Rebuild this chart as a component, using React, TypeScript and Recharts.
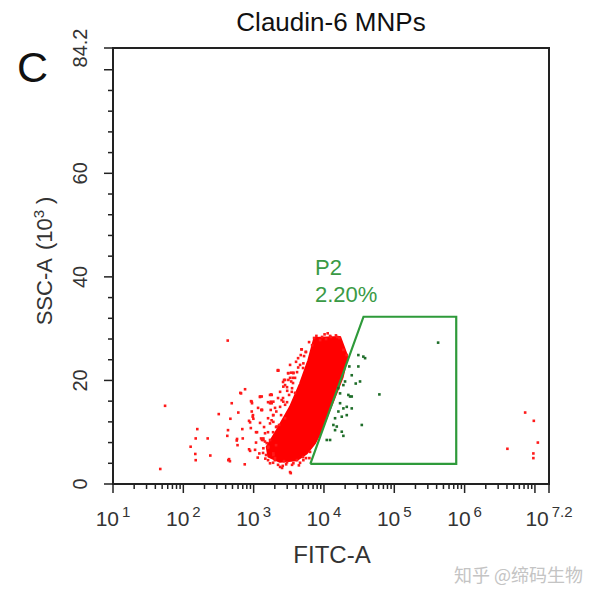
import React from 'react';
import { ScatterChart, Scatter, XAxis, YAxis, ReferenceArea } from 'recharts';

// ---------- data (FITC-A in raw units, SSC-A in 10^3) ----------
const redCoreOutline: [number, number][] = [
  [7300, 28.2], [16940, 28.4], [21530, 24.6], [18500, 20.7], [14380, 16.9],
  [11560, 13.7], [9310, 10.4], [7465, 7.9], [5690, 5.9], [4100, 4.6],
  [2370, 4.3], [1618, 5.3], [1535, 7.2], [2133, 10.4], [3296, 14.9],
  [4571, 19.4], [5998, 23.9],
];

const redEvents: [number, number][] = [
  [55, 15.1], [47, 2.9], [428, 27.7], [127, 7.2], [158, 10.6], [150, 8.8], [148, 5.8],
  [150, 4.6], [222, 8.8], [242, 5.5], [319, 13.5], [437, 4.6], [467, 12.6], [488, 15.6],
  [432, 10.4], [581, 8.7], [590, 7.5], [690, 10.6], [662, 17.5], [755, 18.3], [647, 17.6],
  [747, 3.8], [940, 15.9], [940, 14.0], [991, 12.6], [912, 10.8], [1205, 5.9], [1143, 5.1],
  [1288, 14.3], [1303, 16.9], [1274, 8.8], [1770, 17.3], [1808, 15.6], [2203, 21.9],
  [2706, 20.1], [2594, 3.5], [3373, 2.1], [4775, 26.0], [3404, 21.5], [3675, 21.5],
  [3420, 19.8], [1906, 5.9], [1618, 7.2], [1466, 4.9], [422, 9.3], [575, 8.4], [447, 4.8],
  [460, 4.4], [605, 13.8], [860, 12.2], [890, 11.9], [970, 13.0], [918, 16.0], [1233, 16.9],
  [1318, 14.3], [1081, 10.0], [700, 8.8], [861, 6.7], [890, 6.4], [1081, 8.0], [1374, 8.5],
  [1750, 15.9], [1750, 14.3], [1906, 12.0], [2083, 11.0],
  [4831, 26.0], [4677, 24.9], [5093, 23.3], [3673, 21.4], [3119, 21.4], [2245, 21.9],
  [2798, 20.1], [3119, 20.1], [2642, 18.8], [3484, 17.8], [1808, 17.2], [1906, 15.9],
  [2642, 15.9], [2377, 14.9], [1303, 14.3], [1906, 13.3], [2798, 12.7], [1710, 11.7],
  [2133, 11.1], [1374, 8.8], [1535, 7.9], [1374, 6.9], [1906, 5.6], [1710, 4.0],
  [2377, 3.3], [3673, 4.0], [5093, 4.6], [8810, 27.8], [18880, 25.9], [21090, 24.9],
  [7800, 28.6], [10200, 28.9], [12500, 28.4], [14800, 28.7], [16500, 28.2], [11300, 29.1],
  [5500, 25.5], [4300, 22.5], [3600, 20.5], [3000, 18.0], [2500, 16.2], [2100, 14.0],
  [1800, 12.3], [1600, 10.0], [1450, 8.2], [1500, 5.6], [2000, 4.6], [2900, 3.8],
  [4400, 3.6], [6200, 5.0],
  [4285, 24.3], [4571, 23.0], [5045, 22.4], [3083, 21.4], [3296, 20.5], [3880, 20.5],
  [2223, 22.0], [2618, 19.7], [3516, 18.5], [2985, 18.7], [3880, 17.6], [1233, 16.8],
  [1710, 17.2], [2223, 16.6], [1603, 15.8], [2618, 16.6], [2985, 15.8],
  [979, 13.3], [1117, 10.0], [1233, 11.8], [1315, 8.5], [1452, 9.8], [1047, 6.6],
  [1361, 6.0], [1603, 4.6], [1889, 4.1], [2223, 3.7], [2535, 3.1], [2985, 4.2],
  [3516, 3.7], [4140, 4.6], [3296, 2.3], [5045, 5.2], [1710, 15.6], [1156, 14.7],
  [948, 15.6], [1889, 13.3],
  [6780, 26.8], [5560, 25.5], [6140, 27.4], [7230, 28.2], [9400, 28.4], [12220, 28.6],
  [15350, 28.4], [10710, 28.0], [4140, 21.6], [3630, 19.5], [3190, 17.2], [2800, 15.3],
  [2455, 13.3], [2297, 11.4], [1889, 10.0], [1710, 8.5], [1603, 7.0], [2014, 5.0],
  [2704, 4.4], [4571, 4.1], [5560, 5.0], [6340, 6.2], [2084, 7.5], [1406, 11.0],
  [1603, 12.7], [2014, 14.7], [2377, 17.8], [2800, 19.1], [3296, 23.0], [4010, 23.6],
  [5210, 24.7],
  [7260000, 13.8], [9640000, 12.2], [11000000, 8.0], [4060000, 6.8], [9500000, 5.9], [9500000, 5.0],
];

const greenEvents: [number, number][] = [
  [30830, 24.9], [36300, 24.6], [22960, 22.7], [30830, 22.7], [24830, 21.0], [32580, 19.8],
  [28300, 19.4], [19950, 19.8], [18880, 19.1], [22230, 17.2], [24830, 16.9], [61380, 17.3],
  [16940, 15.6], [18880, 14.6], [24830, 14.6], [16030, 14.0], [21090, 13.3], [17910, 13.0],
  [14380, 12.7], [13610, 11.4], [34500, 11.4], [15210, 11.1], [14380, 10.4], [17910, 10.1],
  [18880, 9.3], [12220, 8.5], [10960, 8.5], [16030, 18.5], [16940, 17.5], [38460, 24.3],
  [21090, 14.9], [23500, 16.9], [420000, 27.3],
];

const gateP2: [number, number][] = [
  [6400, 3.9], [36500, 32.3], [760000, 32.3], [760000, 3.9], [6400, 3.9],
];

// ---------- axes ----------
const X_MIN = 10;
const X_MAX = 15848932; // 10^7.2
const Y_MAX = 84.2;
const xMajorTicks = [10, 100, 1000, 10000, 100000, 1000000, 10000000, 15848932];
const xTickExponents: Record<string, string> = {
  '10': '1', '100': '2', '1000': '3', '10000': '4', '100000': '5', '1000000': '6', '15848932': '7.2',
};
const xMinorMultipliers = [2, 3, 4, 5, 6, 7, 8, 9];
const xDecades = [10, 100, 1000, 10000, 100000, 1000000];
const xMinorTicks = xDecades.flatMap((d) => xMinorMultipliers.map((m) => m * d));
const xTicks = [...xMajorTicks, ...xMinorTicks].sort((a, b) => a - b);

const yTicks = [0, 4, 8, 12, 16, 20, 24, 28, 32, 36, 40, 44, 48, 52, 56, 60, 64, 68, 72, 76, 80, 84.2];
const yMajorTicks = [0, 20, 40, 60, 80, 84.2];
const yTickLabels: Record<string, string> = { '0': '0', '20': '20', '40': '40', '60': '60', '84.2': '84.2' };

const toPts = (arr: [number, number][]) => arr.map(([x, y]) => ({ x, y }));

const FONT = '"Liberation Sans", Arial, Helvetica, sans-serif';
const AXIS = '#222';

const XTick = (props: any) => {
  const { x, y, payload } = props;
  const v = payload.value;
  const major = xMajorTicks.includes(v);
  const exp = xTickExponents[String(v)];
  return (
    <g>
      <line x1={x} x2={x} y1={y} y2={y + (major ? 9 : 5)} stroke={AXIS} strokeWidth={1.5} />
      {exp && (
        <text x={x} y={y + 42} textAnchor="middle" fontFamily={FONT} fontSize={21} fill="#333">
          <tspan>10</tspan>
          <tspan dx={3} dy={-9} fontSize={15}>{exp}</tspan>
        </text>
      )}
    </g>
  );
};

const YTick = (props: any) => {
  const { x, y, payload } = props;
  const v = payload.value;
  const major = yMajorTicks.includes(v);
  const lab = yTickLabels[String(v)];
  return (
    <g>
      <line x1={x - (major ? 9 : 5)} x2={x} y1={y} y2={y} stroke={AXIS} strokeWidth={1.5} />
      {lab && (
        <text
          transform={`translate(${x - 26},${y}) rotate(-90)`}
          textAnchor="middle"
          fontFamily={FONT}
          fontSize={20}
          fill="#333"
        >
          {lab}
        </text>
      )}
    </g>
  );
};

const Dot = (color: string) => (p: any) =>
  <rect x={p.cx - 1.3} y={p.cy - 1.3} width={2.6} height={2.6} fill={color} />;

const NoShape = () => <g />;

const polygonFill = (color: string) => (p: any) => {
  const pts = (p.points || []) as { x: number; y: number }[];
  if (!pts.length) return <g />;
  const d = 'M' + pts.map((q) => `${q.x},${q.y}`).join('L') + 'Z';
  return <path d={d} fill={color} stroke={color} strokeWidth={2} strokeLinejoin="round" />;
};

const polyLine = (color: string) => (p: any) => {
  const pts = (p.points || []) as { x: number; y: number }[];
  if (!pts.length) return <g />;
  const d = 'M' + pts.map((q) => `${q.x},${q.y}`).join('L');
  return <path d={d} fill="none" stroke={color} strokeWidth={2.2} />;
};

export default function App() {
  return (
    <div style={{ position: 'absolute', left: 0, top: 0, width: 600, height: 600, background: '#fff' }}>
      <ScatterChart width={600} height={600} margin={{ top: 48, right: 51, left: 53, bottom: 56 }}>
        <XAxis
          type="number"
          dataKey="x"
          scale="log"
          domain={[X_MIN, X_MAX]}
          allowDataOverflow
          ticks={xTicks}
          interval={0}
          tick={<XTick />}
          tickLine={false}
          tickSize={0}
          tickMargin={0}
          height={60}
          axisLine={{ stroke: AXIS, strokeWidth: 2 }}
        />
        <YAxis
          type="number"
          dataKey="y"
          domain={[0, Y_MAX]}
          allowDataOverflow
          ticks={yTicks}
          interval={0}
          tick={<YTick />}
          tickLine={false}
          tickSize={0}
          tickMargin={0}
          width={60}
          axisLine={{ stroke: AXIS, strokeWidth: 2 }}
        />
        <ReferenceArea x1={X_MIN} x2={X_MAX} y1={0} y2={Y_MAX} fill="none" stroke={AXIS} strokeWidth={2} ifOverflow="visible" />
        <Scatter
          data={toPts(redCoreOutline)}
          shape={NoShape}
          line={polygonFill('#ff0000')}
          lineType="joint"
          isAnimationActive={false}
        />
        <Scatter data={toPts(redEvents)} shape={Dot('#ff1a1a')} isAnimationActive={false} />
        <Scatter
          data={toPts(gateP2)}
          shape={NoShape}
          line={polyLine('#2e9a3a')}
          lineType="joint"
          isAnimationActive={false}
        />
        <Scatter data={toPts(greenEvents)} shape={Dot('#1f6e2a')} isAnimationActive={false} />
      </ScatterChart>
      <svg
        width={600}
        height={600}
        style={{ position: 'absolute', left: 0, top: 0, pointerEvents: 'none' }}
        fontFamily={FONT}
      >
        <text x={331} y={31} textAnchor="middle" fontSize={26} fill="#111">Claudin-6 MNPs</text>
        <text x={17} y={82} fontSize={43} fill="#111">C</text>
        <text x={315} y={275} fontSize={22} fill="#3a9a45">P2</text>
        <text x={315} y={302} fontSize={22} fill="#3a9a45">2.20%</text>
        <text x={332} y={563} textAnchor="middle" fontSize={24} fill="#333">FITC-A</text>
        <text transform="translate(52,261) rotate(-90)" textAnchor="middle" fontSize={22} fill="#333">
          SSC-A<tspan dx={8}>(10</tspan><tspan dy={-8} fontSize={15}>3</tspan><tspan dx={6} dy={8}>)</tspan>
        </text>
        <text x={583} y={582} textAnchor="end" fontSize={18} fill="#c4c4c4" fontFamily='"Noto Sans CJK SC", sans-serif'>
          知乎 @缔码生物
        </text>
      </svg>
    </div>
  );
}
